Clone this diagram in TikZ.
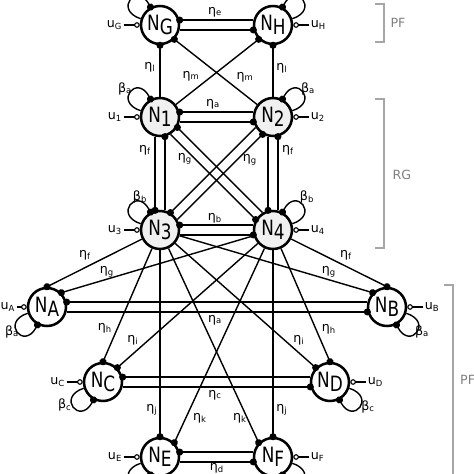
\documentclass[tikz,border=0pt]{standalone}
\usepackage{graphicx}
\usepackage{fontspec}
\setmainfont{DejaVu Sans}
\usetikzlibrary{arrows.meta,positioning}

\newcommand{\nlab}[1]{\scalebox{0.8}[1]{N\raisebox{-2.5pt}{#1}}}

\begin{document}
\begin{tikzpicture}[
  nd/.style={circle, draw, line width=1.8pt, minimum size=0.95cm, inner sep=0pt, font=\fontsize{15}{15}\selectfont},
  link/.style={line width=1pt, -{Circle[length=5pt]}, shorten >=-2.5pt},
  inp/.style={line width=0.8pt, -{Circle[open, length=4pt, line width=0.8pt]}},
  lab/.style={inner sep=1pt, font=\fontsize{9}{9}\selectfont},
  bracket/.style={draw=gray!70, line width=0.8pt},
  blk/.style={inner sep=1pt, text=gray, font=\fontsize{9}{9}\selectfont}
]
\useasboundingbox (0,0) rectangle (11.85,11.85);
\clip (0,0) rectangle (11.85,11.85);

% nodes
\foreach \n/\x/\y/\c in {G/4/11.225/white, H/6.825/11.225/white,
  1/4/8.925/gray!12, 2/6.825/8.925/gray!12, 3/4/6.1/gray!12, 4/6.825/6.1/gray!12,
  A/1.175/4.175/white, B/9.675/4.175/white, C/2.575/2.3/white, D/8.25/2.3/white,
  E/4/0.425/white, F/6.825/0.425/white}
  \node[nd, fill=\c] (N\n) at (\x,\y) {\nlab{\n}};

% double links
\foreach \a/\b/\t [evaluate=\t as \p using int(\t-14), evaluate=\t as \q using int(\t+194),
  evaluate=\t as \r using int(\t+166), evaluate=\t as \s using int(\t+14)]
  in {NG/NH/0, N1/N2/0, N3/N4/0, N1/N3/-90, N2/N4/-90, N1/N4/-45, N2/N3/-135,
      NA/NB/0, NC/ND/0, NE/NF/0}
{
  \draw[link] (\a.\p) -- (\b.\q);
  \draw[link] (\b.\r) -- (\a.\s);
}

% single links
\foreach \a/\b in {N1/NG.south, N2/NH.south, N2/NG.south east, N1/NH.south west,
  N3/NA.north, N4/NB.north, N4/NA.north east, N3/NB.north west,
  N3/NC.north, N4/ND.north, N4/NC.north east, N3/ND.north west,
  N3/NE.north, N4/NF.north, N4/NE.north east, N3/NF.north west}
  \draw[link] (\a) -- (\b);

% self loops
\foreach \n/\o/\i in {G/162/118, 1/162/118, 3/162/118, H/18/62, 2/18/62, 4/18/62,
  A/198/242, C/198/242, E/198/242, B/342/298, D/342/298, F/342/298}
  \draw[link] (N\n.\o) .. controls +(\o:0.72) and +(\i:0.72) .. (N\n.\i);

% inputs
\foreach \n/\d in {G/0.4,1/0.4,3/0.4,A/0.25,C/0.4,E/0.4}
{
  \node[lab, left=\d cm of N\n] (u\n) {u\textsubscript{\n}};
  \draw[inp] (u\n) -- (N\n);
}
\foreach \n in {H,2,4,B,D,F}
{
  \node[lab, right=0.4cm of N\n] (u\n) {u\textsubscript{\n}};
  \draw[inp] (u\n) -- (N\n);
}

% link labels
\node[lab] (le) at (5.375,11.55) {η\textsubscript{e}};
\node[lab] (ll1) at (3.75,10.175) {η\textsubscript{l}};
\node[lab] (ll2) at (7.05,10.15) {η\textsubscript{l}};
\node[lab] (lm1) at (4.775,9.95) {η\textsubscript{m}};
\node[lab] (lm2) at (6.125,9.925) {η\textsubscript{m}};
\node[lab] (la1) at (5.325,9.25) {η\textsubscript{a}};
\node[lab] (lf1) at (3.625,8.1) {η\textsubscript{f}};
\node[lab] (lf2) at (7.2,8.1) {η\textsubscript{f}};
\node[lab] (lg1) at (4.625,7.875) {η\textsubscript{g}};
\node[lab] (lg2) at (6.25,7.85) {η\textsubscript{g}};
\node[lab] (lb) at (5.375,6.4) {η\textsubscript{b}};
\node[lab] (lf3) at (2.125,5.475) {η\textsubscript{f}};
\node[lab] (lf4) at (8.65,5.475) {η\textsubscript{f}};
\node[lab] (lg3) at (2.675,5.05) {η\textsubscript{g}};
\node[lab] (lg4) at (8.225,5.05) {η\textsubscript{g}};
\node[lab] (la2) at (5.375,3.85) {η\textsubscript{a}};
\node[lab] (lh1) at (2.625,3.65) {η\textsubscript{h}};
\node[lab] (lh2) at (8.225,3.625) {η\textsubscript{h}};
\node[lab] (li1) at (3.325,3.35) {η\textsubscript{i}};
\node[lab] (li2) at (7.475,3.35) {η\textsubscript{i}};
\node[lab] (lc) at (5.375,1.975) {η\textsubscript{c}};
\node[lab] (lj1) at (3.8,1.6) {η\textsubscript{j}};
\node[lab] (lj2) at (7.05,1.6) {η\textsubscript{j}};
\node[lab] (lk1) at (5.0,1.4) {η\textsubscript{k}};
\node[lab] (lk2) at (6.0,1.4) {η\textsubscript{k}};
\node[lab] (ld) at (5.425,0.15) {η\textsubscript{d}};

% loop labels
\node[lab] (b1) at (3.125,9.625) {β\textsubscript{a}};
\node[lab] (b2) at (7.7,9.625) {β\textsubscript{a}};
\node[lab] (b3) at (3.5,6.925) {β\textsubscript{b}};
\node[lab] (b4) at (7.675,6.925) {β\textsubscript{b}};
\node[lab] (bA) at (0.3,3.55) {β\textsubscript{a}};
\node[lab] (bB) at (10.55,3.55) {β\textsubscript{a}};
\node[lab] (bC) at (1.62,1.72) {β\textsubscript{c}};
\node[lab] (bD) at (9.2,1.68) {β\textsubscript{c}};

% groups
\draw[bracket] (9.375,11.75) -- (9.6,11.75) -- (9.6,10.8) -- (9.375,10.8);
\node[blk] (pf1) at (9.95,11.275) {PF};
\draw[bracket] (9.375,9.375) -- (9.6,9.375) -- (9.6,5.65) -- (9.375,5.65);
\node[blk] (rg) at (10.05,7.475) {RG};
\draw[bracket] (11.1,4.725) -- (11.325,4.725) -- (11.325,-0.5);
\node[blk] (pf2) at (11.69,2.35) {PF};

\end{tikzpicture}
\end{document}
